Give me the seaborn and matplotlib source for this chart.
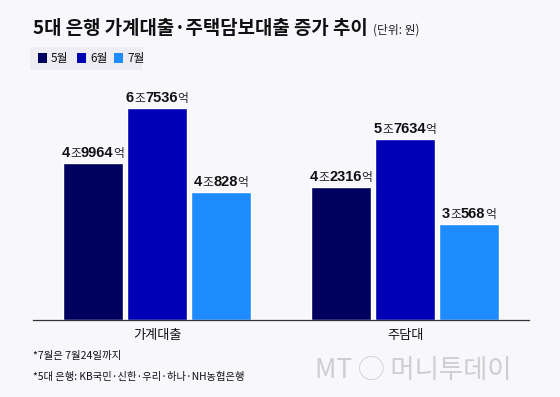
import matplotlib
matplotlib.use("Agg")
import matplotlib.pyplot as plt
import pandas as pd
import seaborn as sns
from matplotlib.offsetbox import TextArea, HPacker, AnnotationBbox
from matplotlib.patches import Rectangle

# %% Data (unit: 억원)
categories = ["가계대출", "주담대"]
months = ["5월", "6월", "7월"]
may_vals = [49964, 42316]
jun_vals = [67536, 57634]
jul_vals = [40828, 30568]
colors = ["#00005f", "#0000b4", "#1e8cff"]
footnotes = ["*7월은 7월24일까지", "*5대 은행: KB국민·신한·우리·하나·NH농협은행"]

df = pd.DataFrame({
    "category": categories * 3,
    "month": [m for m in months for _ in categories],
    "value": may_vals + jun_vals + jul_vals,
})

sns.set_style("white")
plt.rcParams['font.family'] = ['Noto Sans CJK KR', 'DejaVu Sans']
bg = "#f8f8fc"

fig = plt.figure(figsize=(5.6, 3.97), dpi=100, facecolor=bg)
ax = fig.add_axes([0.059, 0.194, 0.886, 0.579])
ax.set_facecolor(bg)

sns.barplot(data=df, x="category", y="value", hue="month", hue_order=months,
            palette=colors, width=0.774, gap=0.06, saturation=1,
            legend=False, ax=ax)

ax.set_xlim(-0.5, 1.5)
ax.set_ylim(0, 73200)
ax.set_yticks([])
ax.set_ylabel("")
ax.set_xlabel("")
ax.spines[['top', 'right', 'left']].set_visible(False)
ax.spines['bottom'].set_color("#333333")
ax.spines['bottom'].set_linewidth(0.9)
ax.set_xticks([-0.5, 0.5, 1.5], minor=False)
ax.set_xticklabels([])
ax.tick_params(axis='x', direction='in', length=5, width=0.9, color="#333333")
for i, c in enumerate(categories):
    ax.text(i, -0.04, c, transform=ax.get_xaxis_transform(), ha='center', va='top',
            fontsize=9.5, color="#111111")


# value labels: big digits, small 조/억
def fmt_parts(v):
    jo, eok = divmod(v, 10000)
    return [(str(jo), True), ("조", False), (str(eok), True), ("억", False)]


num_font = ['Liberation Sans', 'DejaVu Sans']
for bar, v in zip(ax.patches, may_vals + jun_vals + jul_vals):
    kids = []
    for s, big in fmt_parts(v):
        if big:
            kids.append(TextArea(s, textprops=dict(fontsize=10.5, fontweight='bold',
                                                   family=num_font, color="#111111")))
        else:
            kids.append(TextArea(s, textprops=dict(fontsize=8.5, fontweight='medium',
                                                   color="#222222")))
    pack = HPacker(children=kids, align="baseline", pad=0, sep=0)
    x = bar.get_x() + bar.get_width() / 2
    ab = AnnotationBbox(pack, (x, bar.get_height()), xybox=(0, 2),
                        xycoords='data', boxcoords='offset points',
                        box_alignment=(0.5, 0), frameon=False, pad=0)
    ax.add_artist(ab)

# title
title = fig.text(33 / 560, 1 - 28 / 397, "5대 은행 가계대출·주택담보대출 증가 추이",
                 ha='left', va='center', fontsize=13.6, fontweight='bold', color="#111111")
fig.canvas.draw()
tb = title.get_window_extent()
fig.text((tb.x1 + 5) / 560, 1 - 30 / 397, "(단위: 원)", ha='left', va='center',
         fontsize=8.5, color="#222222")

# legend
fig.patches.append(Rectangle((30 / 560, 1 - 70 / 397), 112 / 560, 23 / 397,
                             transform=fig.transFigure, facecolor="#ededf3",
                             edgecolor='none'))
lx = [38, 77, 114]
for x0, m, col in zip(lx, months, colors):
    fig.patches.append(Rectangle((x0 / 560, 1 - 62.5 / 397), 9 / 560, 9 / 397,
                                 transform=fig.transFigure, facecolor=col, edgecolor='none'))
    fig.text((x0 + 13) / 560, 1 - 58.5 / 397, m, ha='left', va='center',
             fontsize=8.5, color="#111111")

# footnotes
fig.text(33 / 560, 1 - 356 / 397, footnotes[0], ha='left', va='center', fontsize=7.5,
         color="#111111")
fig.text(33 / 560, 1 - 377 / 397, footnotes[1], ha='left', va='center', fontsize=7.4,
         color="#111111")

# watermark
fig.text(512 / 560, 1 - 371 / 397, "MT ◯ 머니투데이", ha='right', va='center',
         fontsize=19, color="#cdcdd2", fontweight='light')

fig.savefig("out.png", dpi=100, facecolor=bg)
